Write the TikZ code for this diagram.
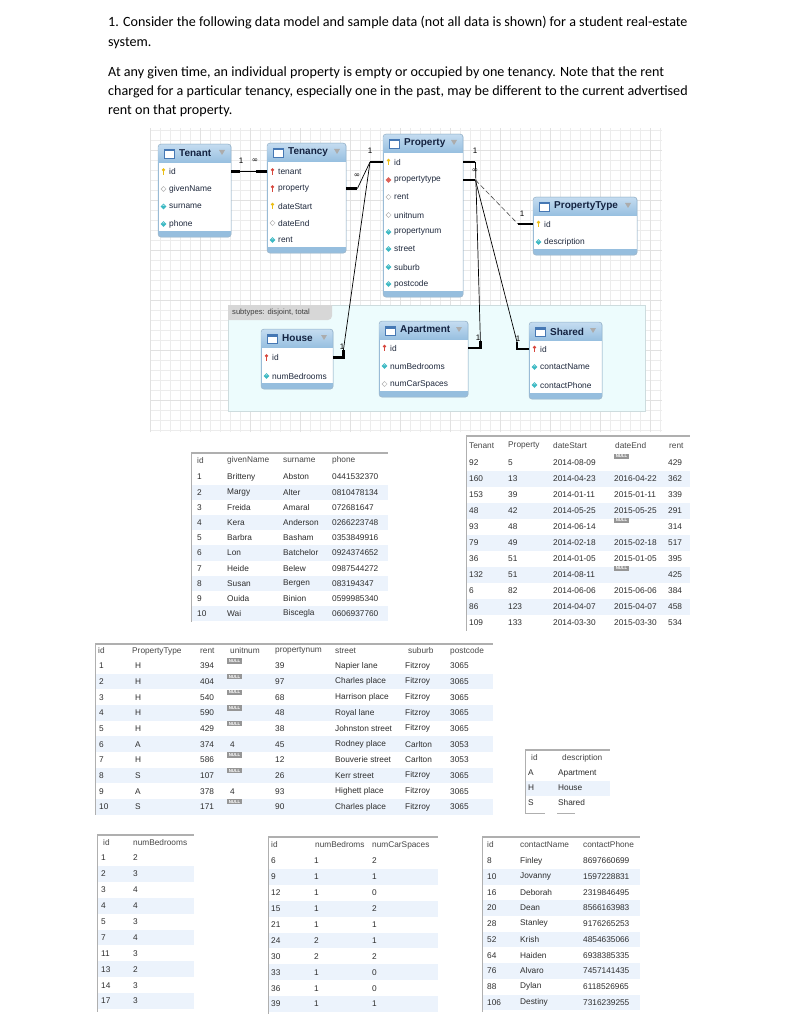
\documentclass[tikz,border=0pt]{standalone}
\usepackage{fontspec}
\setmainfont{Carlito}
\newfontfamily\tabf{Liberation Sans}
\newfontfamily\symf{DejaVu Sans}
\definecolor{hdtop}{RGB}{196,220,240}
\definecolor{hdbot}{RGB}{140,184,220}
\definecolor{erbar}{RGB}{150,190,222}
\definecolor{erborder}{RGB}{160,185,205}
\definecolor{ttl}{RGB}{20,35,65}
\definecolor{rowtxt}{RGB}{30,40,60}
\definecolor{gridc}{RGB}{236,236,236}
\definecolor{gridd}{RGB}{225,225,225}
\definecolor{subfill}{RGB}{237,252,253}
\definecolor{subborder}{RGB}{205,220,222}
\definecolor{tabgray}{RGB}{215,215,215}
\definecolor{stripe}{RGB}{236,243,252}
\definecolor{tline}{RGB}{175,175,175}
\definecolor{celltxt}{RGB}{45,45,45}
\definecolor{nullc}{RGB}{150,150,150}
\definecolor{keyy}{RGB}{235,190,20}
\definecolor{keyr}{RGB}{215,70,60}
\definecolor{dcyan}{RGB}{60,185,195}
\definecolor{iconblue}{RGB}{70,120,180}
\def\NULLword{NULL}
\newcommand\erEntity[6]{%
  \node[draw=erborder, fill=erbar, rounded corners=3pt, anchor=north west, inner sep=0pt,
        minimum width={(#4-#2)*1pt}, minimum height={(#5-#3)*1pt}] (#1) at (#2,#3) {};
  \shade[top color=hdtop, bottom color=hdbot, rounded corners=3pt] (#2+0.4,#3+0.4) rectangle (#4-0.4,#3+23);
  \fill[white] (#2+0.5,#3+19) rectangle (#4-0.5,#5-6);
  \draw[erborder, rounded corners=3pt] (#2,#3) rectangle (#4,#5);
  \draw[fill=white, draw=iconblue, line width=0.6pt] (#2+6,#3+5) rectangle (#2+16,#3+14);
  \fill[iconblue] (#2+6,#3+5) rectangle (#2+16,#3+7.5);
  \node[ertitle] (#1-title) at (#2+21,#3+9.5) {#6};
  \fill[gray!65] (#4-12,#3+6) -- (#4-6,#3+6) -- (#4-9,#3+11) -- cycle;
}
\newcommand\icopk[2]{\fill[keyy] (#1,#2-1.6) circle (1.8pt); \draw[keyy, line width=1.1pt] (#1,#2-1) -- (#1,#2+3.2);}
\newcommand\icofk[2]{\fill[keyr] (#1,#2-1.6) circle (1.8pt); \draw[keyr, line width=1.1pt] (#1,#2-1) -- (#1,#2+3.2);}
\newcommand\icord[2]{\fill[keyr!85] (#1-2.8,#2) -- (#1,#2-2.8) -- (#1+2.8,#2) -- (#1,#2+2.8) -- cycle;}
\newcommand\iconn[2]{\fill[dcyan] (#1-2.8,#2) -- (#1,#2-2.8) -- (#1+2.8,#2) -- (#1,#2+2.8) -- cycle;
  \fill[dcyan!40] (#1-1.2,#2-0.6) -- (#1,#2-1.8) -- (#1+1.2,#2-0.6) -- cycle;}
\newcommand\iconl[2]{\draw[gray!60, fill=white, line width=0.5pt] (#1-2.6,#2) -- (#1,#2-2.6) -- (#1+2.6,#2) -- (#1,#2+2.6) -- cycle;}
\newcommand\erRow[5]{%
  \node[errowtxt] (#1) at (#2+11,#3) {#5};
  \csname ico#4\endcsname{#2+5.5}{#3}%
}
\newcommand\nullbadge[3]{\node[fill=nullc, text=white, font=\tabf\bfseries\fontsize{4.3}{4.5}\selectfont, inner xsep=1.6pt, inner ysep=1.1pt, anchor=west] (#1) at (#2,#3) {NULL};}
\begin{document}
\begin{tikzpicture}[x=1pt,y=-1pt,
  body/.style={anchor=base west, inner sep=0pt, font=\fontsize{14.1}{17}\selectfont},
  ertitle/.style={anchor=west, inner sep=0pt, font=\tabf\bfseries\fontsize{10}{12}\selectfont, text=ttl},
  errowtxt/.style={anchor=west, inner sep=0pt, font=\tabf\fontsize{8.4}{9}\selectfont, text=rowtxt},
  cell/.style={anchor=west, inner sep=0pt, font=\tabf\fontsize{8.3}{9}\selectfont, text=celltxt},
  hcell/.style={cell, text=black!72},
  card/.style={inner sep=0pt, font=\tabf\fontsize{8}{9}\selectfont},
  inf/.style={inner sep=0pt, font=\symf\fontsize{7.5}{9}\selectfont},
  relstub/.style={line width=2.4pt, black},
  relline/.style={line width=0.7pt, black},
  reldash/.style={line width=0.6pt, black!70, dash pattern=on 5pt off 2.5pt},
  tabborder/.style={tline, line width=0.6pt},
  tabtop/.style={tline, line width=1.3pt}]
\useasboundingbox (0,0) rectangle (801,1024);
\fill[white] (0,0) rectangle (801,1024);

% ---------- question text ----------
\node[body] (p1) at (108,27) {1. Consider the following data model and sample data (not all data is shown) for a student real-estate};
\node[body] (p2) at (108,47) {system.};
\node[body] (p3) at (108,77) {At any given time, an individual property is empty or occupied by one tenancy. Note that the rent};
\node[body] (p4) at (108,96) {charged for a particular tenancy, especially one in the past, may be different to the current advertised};
\node[body] (p5) at (108,115) {rent on that property.};

% ---------- ER canvas ----------
\draw[gridc, step=10pt, line width=0.4pt] (150,128) grid (662,432);
\draw[gridd, step=50pt, line width=0.5pt] (150,128) grid (662,432);
\draw[subborder, fill=subfill] (228,305) rectangle (645,411);
\fill[tabgray] (228,305) -- (332,305) [rounded corners=4pt] -- (332,320) [sharp corners] -- (228,320) -- cycle;
\node[anchor=west, inner sep=0pt, font=\tabf\fontsize{7.6}{9}\selectfont, text=black!75] (subtag) at (232,312.5) {subtypes: disjoint, total};

\erEntity{Tenant}{158}{144}{231}{237}{Tenant}
\erRow{Tenant-id}{158}{171.5}{pk}{id}
\erRow{Tenant-givenName}{158}{189}{nl}{givenName}
\erRow{Tenant-surname}{158}{206.5}{nn}{surname}
\erRow{Tenant-phone}{158}{224}{nn}{phone}

\erEntity{Tenancy}{267}{143}{346}{253}{Tenancy}
\erRow{Tenancy-tenant}{267}{171.5}{fk}{tenant}
\erRow{Tenancy-property}{267}{188.5}{fk}{property}
\erRow{Tenancy-dateStart}{267}{206}{pk}{dateStart}
\erRow{Tenancy-dateEnd}{267}{223}{nl}{dateEnd}
\erRow{Tenancy-rent}{267}{240}{nn}{rent}

\erEntity{Property}{383}{134}{463}{297}{Property}
\erRow{Property-id}{383}{162}{pk}{id}
\erRow{Property-propertytype}{383}{180}{rd}{propertytype}
\erRow{Property-rent}{383}{197}{nl}{rent}
\erRow{Property-unitnum}{383}{215}{nl}{unitnum}
\erRow{Property-propertynum}{383}{232}{nn}{propertynum}
\erRow{Property-street}{383}{249}{nn}{street}
\erRow{Property-suburb}{383}{267}{nn}{suburb}
\erRow{Property-postcode}{383}{284}{nn}{postcode}

\erEntity{PropertyType}{533}{197}{637}{255}{PropertyType}
\erRow{PropertyType-id}{533}{224}{pk}{id}
\erRow{PropertyType-description}{533}{242}{nn}{description}

\erEntity{House}{261}{329}{333}{389}{House}
\erRow{House-id}{261}{357.5}{fk}{id}
\erRow{House-numBedrooms}{261}{376}{nn}{numBedrooms}

\erEntity{Apartment}{379}{321}{468}{397}{Apartment}
\erRow{Apartment-id}{379}{348}{fk}{id}
\erRow{Apartment-numBedrooms}{379}{366}{nn}{numBedrooms}
\erRow{Apartment-numCarSpaces}{379}{384}{nl}{numCarSpaces}

\erEntity{Shared}{529}{322}{602}{399}{Shared}
\erRow{Shared-id}{529}{349}{fk}{id}
\erRow{Shared-contactName}{529}{367}{nn}{contactName}
\erRow{Shared-contactPhone}{529}{385}{nn}{contactPhone}

% ---------- relationships ----------
% Tenant - Tenancy
\path (Tenant.east |- Tenant-id) ++(9,0) coordinate (ta1);
\path (Tenancy.west |- Tenancy-tenant) ++(-11,0) coordinate (ta2);
\draw[relline] (Tenant.east |- Tenant-id) -- (Tenancy.west |- Tenancy-tenant);
\draw[relstub] (Tenant.east |- Tenant-id) -- (ta1);
\draw[relstub] (Tenancy.west |- Tenancy-tenant) -- (ta2);
\node[card] (l1) at (241,161) {1};
\node[inf] (l2) at (255,161) {∞};
% Tenancy - Property
\path (Tenancy.east |- Tenancy-property) ++(11,0) coordinate (tp1);
\path (Property.west |- Property-id) ++(-13,0) coordinate (pp1);
\draw[relline] (tp1) -- (pp1);
\draw[relstub] (Tenancy.east |- Tenancy-property) -- (tp1);
\draw[relstub] (Property.west |- Property-id) -- (pp1);
\node[inf] (l3) at (357,176) {∞};
\node[card] (l4) at (370,151) {1};
% Property - House
\path (House.east |- House-id) ++(10,0) coordinate (hs1);
\draw[relline] (pp1) -- (hs1 |- 0,350);
\draw[relstub] (hs1 |- 0,350) -- (hs1) -- (House.east |- House-id);
\node[card] (l5) at (342,347) {1};
% Property - Apartment
\path (Property.east |- Property-id) ++(12,0) coordinate (pr1);
\path (Apartment.east |- Apartment-id) ++(12,0) coordinate (ap1);
\draw[relline] (pr1) -- (ap1 |- 0,341);
\draw[relstub] (ap1 |- 0,341) -- (ap1) -- (Apartment.east |- Apartment-id);
\draw[relstub] (Property.east |- Property-id) -- (pr1);
\node[card] (l6) at (475,151) {1};
\node[card] (l7) at (478,338) {1};
% Property - Shared
\path (Property.east |- Property-propertytype) ++(12,0) coordinate (pr2);
\path (Shared.west |- Shared-id) ++(-12,0) coordinate (sh1);
\draw[relline] (pr2) -- (sh1 |- 0,342);
\draw[relstub] (sh1 |- 0,342) -- (sh1) -- (Shared.west |- Shared-id);
\draw[relstub] (Property.east |- Property-propertytype) -- (pr2);
\node[inf] (l8) at (475,171) {∞};
\node[card] (l9) at (518,339) {1};
% Property - PropertyType
\path (PropertyType.west |- PropertyType-id) ++(-15,0) coordinate (pt1);
\draw[reldash] (pr2) -- (pt1);
\draw[relstub] (pt1) -- (PropertyType.west |- PropertyType-id);
\node[card] (l10) at (522,214) {1};

% ---------- Tenant data ----------
\foreach \i in {2,4,...,10} \fill[stripe] (192,{477+(\i-1)*15.2-7.6}) rectangle (388,{477+(\i-1)*15.2+7.6});
\draw[tabtop] (191,453) -- (388,453);
\draw[tabborder] (191,453) -- (191,622);
\node[hcell] (tnh1) at (197,460.5) {id};
\node[hcell] (tnh2) at (227,460.5) {givenName};
\node[hcell] (tnh3) at (283,460.5) {surname};
\node[hcell] (tnh4) at (332,460.5) {phone};
\foreach \i/\fa/\fb/\fc in {1/Britteny/Abston/0441532370, 2/Margy/Alter/0810478134, 3/Freida/Amaral/072681647,
  4/Kera/Anderson/0266223748, 5/Barbra/Basham/0353849916, 6/Lon/Batchelor/0924374652, 7/Heide/Belew/0987544272,
  8/Susan/Bergen/083194347, 9/Ouida/Binion/0599985340, 10/Wai/Biscegla/0606937760}{
  \pgfmathsetmacro\yy{477+(\i-1)*15.2}
  \node[cell] (tn-\i-0) at (197,\yy) {\i};
  \node[cell] (tn-\i-1) at (227,\yy) {\fa};
  \node[cell] (tn-\i-2) at (283,\yy) {\fb};
  \node[cell] (tn-\i-3) at (332,\yy) {\fc};
}

% ---------- Tenancy data ----------
\foreach \i in {2,4,...,10} \fill[stripe] (467,{463+(\i-1)*16-8}) rectangle (690,{463+(\i-1)*16+8});
\draw[tabtop] (466,436) -- (690,436);
\draw[tabborder] (466,436) -- (466,631);
\node[hcell] (tyh1) at (469,446) {Tenant};
\node[hcell] (tyh2) at (508,446) {Property};
\node[hcell] (tyh3) at (553,446) {dateStart};
\node[hcell] (tyh4) at (615,446) {dateEnd};
\node[hcell] (tyh5) at (669,446) {rent};
\foreach \i/\fa/\fb/\fc/\fd/\fe in {1/92/5/2014-08-09/NULL/429, 2/160/13/2014-04-23/2016-04-22/362,
  3/153/39/2014-01-11/2015-01-11/339, 4/48/42/2014-05-25/2015-05-25/291, 5/93/48/2014-06-14/NULL/314,
  6/79/49/2014-02-18/2015-02-18/517, 7/36/51/2014-01-05/2015-01-05/395, 8/132/51/2014-08-11/NULL/425,
  9/6/82/2014-06-06/2015-06-06/384, 10/86/123/2014-04-07/2015-04-07/458, 11/109/133/2014-03-30/2015-03-30/534}{
  \pgfmathsetmacro\yy{463+(\i-1)*16}
  \node[cell] (ty-\i-0) at (469,\yy) {\fa};
  \node[cell] (ty-\i-1) at (508,\yy) {\fb};
  \node[cell] (ty-\i-2) at (553,\yy) {\fc};
  \edef\tmpv{\fd}
  \ifx\tmpv\NULLword \nullbadge{ty-\i-3}{614}{\yy-6.5} \else \node[cell] (ty-\i-3) at (614,\yy) {\fd}; \fi
  \node[cell] (ty-\i-4) at (668,\yy) {\fe};
}

% ---------- Property data ----------
\foreach \i in {2,4,...,10} \fill[stripe] (96,{666+(\i-1)*15.65-7.8}) rectangle (493,{666+(\i-1)*15.65+7.8});
\draw[tabtop] (95,644) -- (493,644);
\draw[tabborder] (95,644) -- (95,815);
\node[hcell] (pph1) at (98,651) {id};
\node[hcell] (pph2) at (132,651) {PropertyType};
\node[hcell] (pph3) at (200,651) {rent};
\node[hcell] (pph4) at (230,651) {unitnum};
\node[hcell] (pph5) at (275,651) {propertynum};
\node[hcell] (pph6) at (335,651) {street};
\node[hcell] (pph7) at (408,651) {suburb};
\node[hcell] (pph8) at (450,651) {postcode};
\foreach \i/\fa/\fb/\fc/\fd/\fe/\ff/\fg in {1/H/394/NULL/39/Napier lane/Fitzroy/3065, 2/H/404/NULL/97/Charles place/Fitzroy/3065,
  3/H/540/NULL/68/Harrison place/Fitzroy/3065, 4/H/590/NULL/48/Royal lane/Fitzroy/3065,
  5/H/429/NULL/38/Johnston street/Fitzroy/3065, 6/A/374/4/45/Rodney place/Carlton/3053,
  7/H/586/NULL/12/Bouverie street/Carlton/3053, 8/S/107/NULL/26/Kerr street/Fitzroy/3065,
  9/A/378/4/93/Highett place/Fitzroy/3065, 10/S/171/NULL/90/Charles place/Fitzroy/3065}{
  \pgfmathsetmacro\yy{666+(\i-1)*15.65}
  \node[cell] (pp-\i-0) at (99,\yy) {\i};
  \node[cell] (pp-\i-1) at (135,\yy) {\fa};
  \node[cell] (pp-\i-2) at (200,\yy) {\fb};
  \edef\tmpv{\fc}
  \ifx\tmpv\NULLword \nullbadge{pp-\i-3}{227}{\yy-5} \else \node[cell] (pp-\i-3) at (230,\yy) {\fc}; \fi
  \node[cell] (pp-\i-4) at (275,\yy) {\fd};
  \node[cell] (pp-\i-5) at (335,\yy) {\fe};
  \node[cell] (pp-\i-6) at (405,\yy) {\ff};
  \node[cell] (pp-\i-7) at (450,\yy) {\fg};
}

% ---------- PropertyType data ----------
\fill[stripe] (526,780.5) rectangle (610,795.5);
\draw[tabtop] (525,750) -- (610,750);
\draw[tabborder] (525,750) -- (525,813);
\draw[tabborder] (525,813) -- (545,813);
\draw[tabborder] (557,813) -- (575,813);
\node[hcell] (pth1) at (531,758) {id};
\node[hcell] (pth2) at (562,758) {description};
\node[cell] (pt-1-0) at (528,773) {A};
\node[cell] (pt-1-1) at (558,773) {Apartment};
\node[cell] (pt-2-0) at (528,788) {H};
\node[cell] (pt-2-1) at (558,788) {House};
\node[cell] (pt-3-0) at (528,803) {S};
\node[cell] (pt-3-1) at (558,803) {Shared};

% ---------- House data ----------
\foreach \i in {2,4,...,10} \fill[stripe] (98,{858+(\i-1)*15.9-7.9}) rectangle (194,{858+(\i-1)*15.9+7.9});
\draw[tabtop] (97,835) -- (194,835);
\draw[tabborder] (97,835) -- (97,1012);
\node[hcell] (hoh1) at (103,843) {id};
\node[hcell] (hoh2) at (133,843) {numBedrooms};
\foreach \i/\fa/\fb in {1/1/2, 2/2/3, 3/3/4, 4/4/4, 5/5/3, 6/7/4, 7/11/3, 8/13/2, 9/14/3, 10/17/3}{
  \pgfmathsetmacro\yy{858+(\i-1)*15.9}
  \node[cell] (ho-\i-0) at (101,\yy) {\fa};
  \node[cell] (ho-\i-1) at (133,\yy) {\fb};
}

% ---------- Apartment data ----------
\foreach \i in {2,4,...,10} \fill[stripe] (269,{861+(\i-1)*15.9-7.9}) rectangle (438,{861+(\i-1)*15.9+7.9});
\draw[tabtop] (268,837) -- (438,837);
\draw[tabborder] (268,837) -- (268,1014);
\node[hcell] (aph1) at (271,845) {id};
\node[hcell] (aph2) at (315,845) {numBedroms};
\node[hcell] (aph3) at (372,845) {numCarSpaces};
\foreach \i/\fa/\fb/\fc in {1/6/1/2, 2/9/1/1, 3/12/1/0, 4/15/1/2, 5/21/1/1, 6/24/2/1, 7/30/2/2, 8/33/1/0, 9/36/1/0, 10/39/1/1}{
  \pgfmathsetmacro\yy{861+(\i-1)*15.9}
  \node[cell] (ap-\i-0) at (271,\yy) {\fa};
  \node[cell] (ap-\i-1) at (314,\yy) {\fb};
  \node[cell] (ap-\i-2) at (372,\yy) {\fc};
}

% ---------- Shared data ----------
\foreach \i in {2,4,...,10} \fill[stripe] (483,{861+(\i-1)*15.7-7.8}) rectangle (640,{861+(\i-1)*15.7+7.8});
\draw[tabtop] (482,837) -- (640,837);
\draw[tabborder] (482,837) -- (482,1012);
\node[hcell] (shh1) at (487,845) {id};
\node[hcell] (shh2) at (520,845) {contactName};
\node[hcell] (shh3) at (583,845) {contactPhone};
\foreach \i/\fa/\fb/\fc in {1/8/Finley/8697660699, 2/10/Jovanny/1597228831, 3/16/Deborah/2319846495,
  4/20/Dean/8566163983, 5/28/Stanley/9176265253, 6/52/Krish/4854635066, 7/64/Haiden/6938385335,
  8/76/Alvaro/7457141435, 9/88/Dylan/6118526965, 10/106/Destiny/7316239255}{
  \pgfmathsetmacro\yy{861+(\i-1)*15.7}
  \node[cell] (sh-\i-0) at (487,\yy) {\fa};
  \node[cell] (sh-\i-1) at (520,\yy) {\fb};
  \node[cell] (sh-\i-2) at (583,\yy) {\fc};
}
\end{tikzpicture}
\end{document}
